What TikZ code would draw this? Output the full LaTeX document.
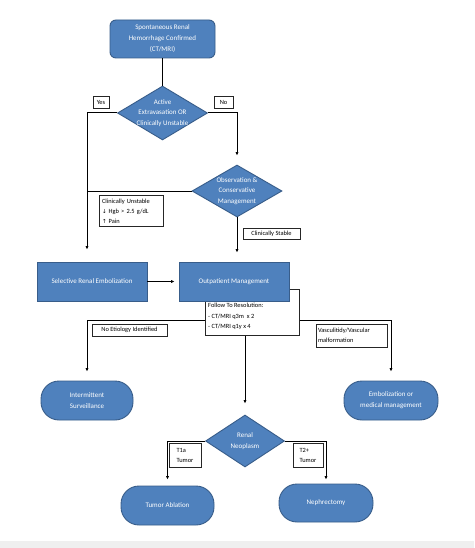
\documentclass[tikz,border=0pt]{standalone}
\usepackage{fontspec}
\setmainfont{Carlito}
\newfontfamily\arrowfont{DejaVu Sans}
\usetikzlibrary{shapes.geometric,arrows.meta}
\definecolor{fil}{HTML}{4F81BD}
\definecolor{bdr}{HTML}{385D8A}
\definecolor{band}{HTML}{EFEFEF}
\begin{document}
\begin{tikzpicture}[x=1pt,y=-1pt,
  bluebox/.style={draw=bdr, fill=fil, line width=0.9pt, text=white, font=\fontsize{7}{11}\selectfont, align=center, inner sep=1pt},
  procbox/.style={bluebox, rectangle},
  termbox/.style={bluebox, rectangle, rounded corners=18pt},
  decbox/.style={bluebox, diamond, inner sep=0pt},
  wtxt/.style={text=white, font=\fontsize{7}{10.5}\selectfont, align=center, inner sep=0pt},
  lbl/.style={draw=black!85, fill=white, line width=0.6pt, font=\fontsize{6.4}{10}\selectfont, inner sep=1.5pt},
  conn/.style={draw=black, line width=1pt},
  arr/.style={conn, -{Latex[length=3.5pt,width=3.2pt]}},
]
\useasboundingbox (0,0) rectangle (474,548);
\fill[white] (0,0) rectangle (474,548);
\fill[band] (0,541) rectangle (474,548);

% coordinates of the split line under outpatient management
\coordinate (hl) at (87,320);
\coordinate (hr) at (391,320);
\draw[conn] (hl) -- (hr);

% nodes
\node[procbox, rounded corners=6pt, minimum width=105, minimum height=38] (top) at (162.5,39) {Spontaneous Renal\\Hemorrhage Confirmed\\(CT/MRI)};

\node[decbox, minimum width=90, minimum height=54] (d1) at (162.5,113) {};
\node[wtxt] (d1t) at (d1.center) {Active\\Extravasation OR\\Clinically Unstable};
\node[lbl, minimum width=16, minimum height=12] (yes) at (101,102) {Yes};
\node[lbl, minimum width=19, minimum height=12] (no) at (223.5,102) {No};

\node[decbox, minimum width=90, minimum height=52] (d2) at (237,191) {};
\node[wtxt] (d2t) at (d2.center) {Observation \&\\Conservative\\Management};

\node[lbl, inner sep=3pt, text width=58, minimum height=30, align=left] (cu) at (131,211) {Clinically Unstable\\{\arrowfont\fontsize{5.5}{10}\selectfont ↓} Hgb \textgreater{} 2.5 g/dL\\{\arrowfont\fontsize{5.5}{10}\selectfont ↑} Pain};
\node[lbl, minimum width=57, minimum height=11] (cs) at (271.5,233.5) {Clinically Stable};

\node[procbox, minimum width=110, minimum height=39] (sre) at (92,281.5) {Selective Renal Embolization};

\node[lbl, minimum width=94, minimum height=46, anchor=north west] (fol) at (205,289) {};
\node[procbox, minimum width=110, minimum height=39] (om) at (234,281.5) {Outpatient Management};
\node[anchor=north west, font=\fontsize{6.4}{10.5}\selectfont, align=left, inner sep=0pt] (folt) at (208,303) {Follow To Resolution:\\- CT/MRI q3m\ \ x 2\\- CT/MRI q1y x 4};

\node[lbl, minimum width=75, minimum height=12] (noe) at (129.5,330) {No Etiology Identified};
\node[lbl, inner sep=2pt, text width=67, minimum height=23, align=left] (vas) at (351.5,335.5) {Vasculitidy/Vascular\\malformation};

\node[termbox, minimum width=92, minimum height=39] (is) at (87,400.5) {Intermittent\\Surveillance};
\node[termbox, minimum width=94, minimum height=39] (emb) at (391,400.5) {Embolization or\\medical management};

\node[decbox, minimum width=79, minimum height=52] (rn) at (245,441) {};
\node[wtxt] (rnt) at (rn.center) {Renal\\Neoplasm};
\node[lbl, minimum width=32, minimum height=24, align=left] (t1a) at (185,455) {T1a\\Tumor};
\node[lbl, minimum width=30, minimum height=24, align=left] (t2) at (308,455) {T2+\\Tumor};

\node[termbox, minimum width=93, minimum height=39] (ta) at (167.5,505.5) {Tumor Ablation};
\node[termbox, minimum width=94, minimum height=38] (ne) at (326,503) {Nephrectomy};

% connectors
\coordinate (c1) at (87,113);
\draw[conn] (top.south) -- (d1.north);
\draw[arr, shorten >=12pt] (d1.west) -- (c1) -- (c1 |- sre.north);
\draw[arr, shorten >=9pt] (d1.east) -- (d1.east -| d2.north) -- (d2.north);
\draw[conn] (d2.west) -- (d2.west -| c1);
\draw[arr, shorten >=9pt] (d2.south) -- (d2.south |- om.north);
\draw[arr, shorten >=4pt] (sre.east) -- (om.west);
\draw[arr, shorten >=9pt] (hl) -- (hl |- is.north);
\draw[arr, shorten >=9pt] (hr) -- (hr |- emb.north);
\draw[arr, shorten >=11pt] (fol.south -| rn.north) -- (rn.north);
\draw[arr, shorten >=6pt] (rn.west) -- (rn.west -| ta.north) -- (ta.north);
\draw[arr, shorten >=4pt] (rn.east) -- (rn.east -| ne.north) -- (ne.north);
\end{tikzpicture}
\end{document}
